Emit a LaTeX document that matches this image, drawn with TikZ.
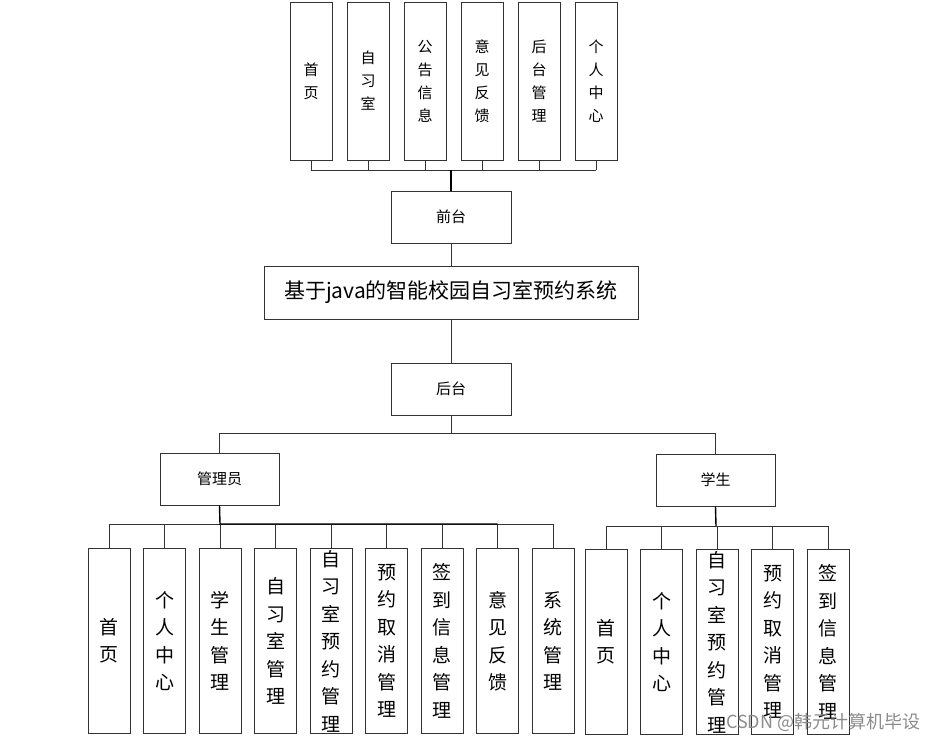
\documentclass[tikz,border=0pt]{standalone}
\usepackage{fontspec}
\newfontfamily\cjk{Noto Sans CJK SC}
\begin{document}
\begin{tikzpicture}[x=1pt,y=-1pt,
  bx/.style={draw=black!80,line width=0.8pt,fill=white,inner sep=0pt,font=\cjk,align=center},
  ln/.style={draw=black!80,line width=0.8pt},
  thk/.style={draw=black,line width=1.4pt}]
\useasboundingbox (0,0) rectangle (946,744);
\tikzset{tb/.style={bx,minimum width=42pt,minimum height=158pt,font=\cjk\fontsize{15}{23}\selectfont},
 bb/.style={bx,minimum width=42pt,minimum height=185pt,font=\cjk\fontsize{19}{27.5}\selectfont}}
% top
\node[tb] (t1) at (311,81) {首\\页};
\node[tb] (t2) at (368,81) {自\\习\\室};
\node[tb] (t3) at (425,81) {公\\告\\信\\息};
\node[tb] (t4) at (482,81) {意\\见\\反\\馈};
\node[tb] (t5) at (539,81) {后\\台\\管\\理};
\node[tb] (t6) at (596,81) {个\\人\\中\\心};
\node[bx,minimum width=120pt,minimum height=52pt,font=\cjk\fontsize{15}{18}\selectfont] (qt) at (451,217) {前台};
\node[bx,minimum width=374pt,minimum height=53pt,font=\cjk\fontsize{21}{24}\selectfont] (main) at (451,292.5) {基于java的智能校园自习室预约系统};
\node[bx,minimum width=120pt,minimum height=52pt,font=\cjk\fontsize{15}{18}\selectfont] (ht) at (451,389) {后台};
\node[bx,minimum width=119pt,minimum height=52pt,font=\cjk\fontsize{15}{18}\selectfont] (adm) at (219.5,479) {管理员};
\node[bx,minimum width=119pt,minimum height=52pt,font=\cjk\fontsize{15}{18}\selectfont] (stu) at (715.5,480) {学生};
% top connectors
\coordinate (tb) at (451,170);
\foreach \i in {1,...,6}{\draw[ln] (t\i.south) -- (t\i.south |- tb);}
\draw[ln] (t1.south |- tb) -- (t6.south |- tb);
\draw[thk] (tb) -- (qt.north);
\draw[ln] (qt.south) -- (main.north);
\draw[ln] (main.south) -- (ht.north);
\coordinate (hb) at (451,433);
\draw[ln] (ht.south) -- (hb);
\draw[ln] (adm.north) -- (adm.north |- hb) -- (stu.north |- hb) -- (stu.north);
% admin
\node[bb] (a1) at (109,641) {首\\页};
\node[bb] (a2) at (164.5,641) {个\\人\\中\\心};
\node[bb] (a3) at (220,641) {学\\生\\管\\理};
\node[bb] (a4) at (275.5,641) {自\\习\\室\\管\\理};
\node[bb] (a5) at (331,641) {自\\习\\室\\预\\约\\管\\理};
\node[bb] (a6) at (386.5,641) {预\\约\\取\\消\\管\\理};
\node[bb] (a7) at (442,641) {签\\到\\信\\息\\管\\理};
\node[bb] (a8) at (497.5,641) {意\\见\\反\\馈};
\node[bb] (a9) at (553,641) {系\\统\\管\\理};
\coordinate (ab) at (220,524);
\foreach \i in {1,...,9}{\draw[ln] (a\i.north) -- (a\i.north |- ab);}
\draw[ln] (a1.north |- ab) -- (a9.north |- ab);
\draw[thk] (adm.south) -- (ab) -- (a8.north |- ab);
% student
\node[bb] (s1) at (606,642) {首\\页};
\node[bb] (s2) at (661.5,642) {个\\人\\中\\心};
\node[bb] (s3) at (717,642) {自\\习\\室\\预\\约\\管\\理};
\node[bb] (s4) at (772.5,642) {预\\约\\取\\消\\管\\理};
\node[bb] (s5) at (828,642) {签\\到\\信\\息\\管\\理};
\coordinate (sb) at (716,526);
\foreach \i in {1,...,5}{\draw[ln] (s\i.north) -- (s\i.north |- sb);}
\draw[ln] (s1.north |- sb) -- (s5.north |- sb);
\draw[thk] (stu.south) -- (sb);
\node[font=\cjk\fontsize{18}{20}\selectfont,text=black!45,anchor=west,inner sep=0pt] (wm) at (726,722) {CSDN @韩元计算机毕设};
\end{tikzpicture}
\end{document}
